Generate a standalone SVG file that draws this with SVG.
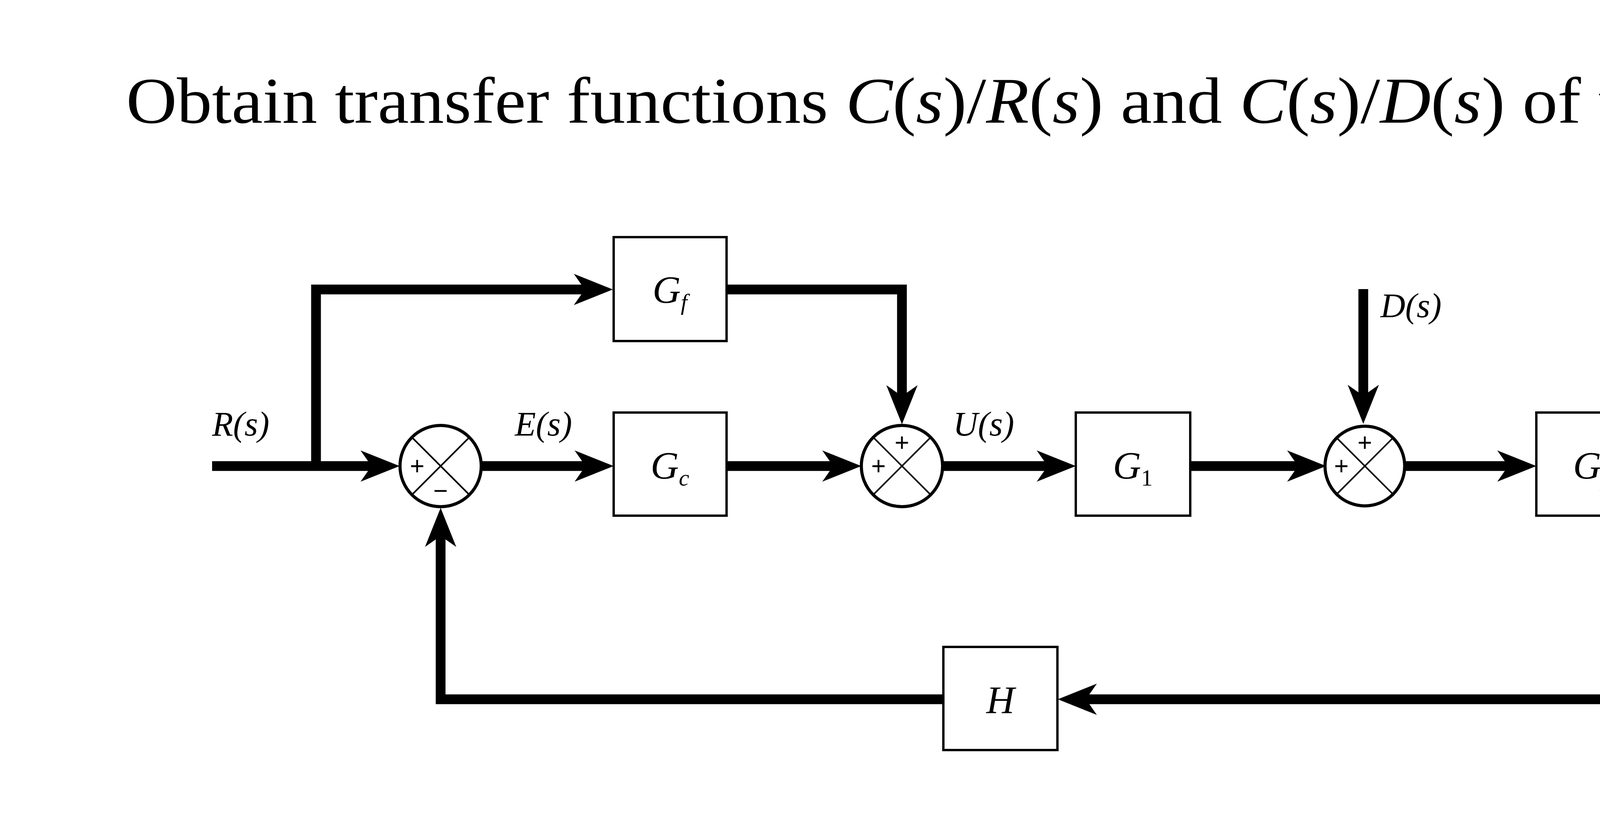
<svg xmlns="http://www.w3.org/2000/svg" xmlns:xlink="http://www.w3.org/1999/xlink" width="4918" height="2140" viewBox="0 0 4918 2140">
<style>
.w{fill:none;stroke:#000;stroke-width:25;stroke-linejoin:miter}
.b{fill:#fff;stroke:#000;stroke-width:6}
.s{fill:#fff;stroke:#000;stroke-width:8}
.x{stroke:#000;stroke-width:4}
.t{font-family:"Liberation Serif",serif;font-style:italic;fill:#000}
.lb{font-size:88px}
.bl{font-size:100px;text-anchor:middle}
.pm{font-family:"Liberation Sans",sans-serif;font-size:64px;text-anchor:middle;fill:#000}
</style>
<defs><path id="ah" d="M0,0 L-100,-40 L-72,0 L-100,40 Z" fill="#000"/></defs>
<rect width="4918" height="2140" fill="#fff"/>
<text x="323" y="314" font-family="Liberation Serif,serif" font-size="168" fill="#000" textLength="4533" lengthAdjust="spacingAndGlyphs">Obtain transfer functions <tspan font-style="italic">C</tspan>(<tspan font-style="italic">s</tspan>)/<tspan font-style="italic">R</tspan>(<tspan font-style="italic">s</tspan>) and <tspan font-style="italic">C</tspan>(<tspan font-style="italic">s</tspan>)/<tspan font-style="italic">D</tspan>(<tspan font-style="italic">s</tspan>) of the system</text>
<g id="connectors">
<path class="w" d="M543,1193 H953"/>
<path class="w" d="M809,1193 V741 H1500"/>
<path class="w" d="M1860,741 H2309 V1016"/>
<path class="w" d="M1233,1193 H1500"/>
<path class="w" d="M1860,1193 H2135"/>
<path class="w" d="M2413,1193 H2684"/>
<path class="w" d="M3047,1193 H3325"/>
<path class="w" d="M3490,740 V1015"/>
<path class="w" d="M3593,1193 H3863"/>
<path class="w" d="M4224,1193 H4616"/>
<path class="w" d="M4414,1193 V1790 H2778"/>
<path class="w" d="M2415,1790 H1128 V1370"/>
<use xlink:href="#ah" transform="translate(1023,1193)"/>
<use xlink:href="#ah" transform="translate(1569,741)"/>
<use xlink:href="#ah" transform="translate(1571,1193)"/>
<use xlink:href="#ah" transform="translate(2205,1193)"/>
<use xlink:href="#ah" transform="translate(2309,1086) rotate(90)"/>
<use xlink:href="#ah" transform="translate(2754,1193)"/>
<use xlink:href="#ah" transform="translate(3395,1193)"/>
<use xlink:href="#ah" transform="translate(3490,1085) rotate(90)"/>
<use xlink:href="#ah" transform="translate(3933,1193)"/>
<use xlink:href="#ah" transform="translate(4686,1193)"/>
<use xlink:href="#ah" transform="translate(2708,1790) rotate(180)"/>
<use xlink:href="#ah" transform="translate(1128,1300) rotate(-90)"/>
</g>
<g id="labels">
<text class="t lb" x="543" y="1115">R(s)</text>
<text class="t lb" x="1318" y="1115">E(s)</text>
<text class="t lb" x="2440" y="1115">U(s)</text>
<text class="t lb" x="3534" y="812">D(s)</text>
<text class="t lb" x="4524" y="1115">C(s)</text>
</g>
<g id="Gf"><rect class="b" x="1571" y="607" width="289" height="266"/><text class="t bl" x="1715" y="775">G<tspan font-size="60" dy="18">f</tspan></text></g>
<g id="Gc"><rect class="b" x="1571" y="1056" width="289" height="264"/><text class="t bl" x="1715" y="1225">G<tspan font-size="60" dy="18">c</tspan></text></g>
<g id="G1"><rect class="b" x="2754" y="1056" width="293" height="264"/><text class="t bl" x="2900" y="1225">G<tspan font-size="60" dy="18" font-style="normal">1</tspan></text></g>
<g id="Gp"><rect class="b" x="3933" y="1056" width="291" height="264"/><text class="t bl" x="4078" y="1225">G<tspan font-size="60" dy="18">p</tspan></text></g>
<g id="H"><rect class="b" x="2415" y="1656" width="292" height="264"/><text class="t bl" x="2561" y="1825">H</text></g>
<g id="sum1"><circle class="s" cx="1128" cy="1193" r="104"/><path class="x" d="M1054,1119 L1202,1267 M1202,1119 L1054,1267"/><text class="pm" x="1068" y="1215">+</text><text class="pm" x="1128" y="1278">−</text></g>
<g id="sum2"><circle class="s" cx="2309" cy="1193" r="104"/><path class="x" d="M2235,1119 L2383,1267 M2383,1119 L2235,1267"/><text class="pm" x="2309" y="1155">+</text><text class="pm" x="2249" y="1215">+</text></g>
<g id="sum3"><circle class="s" cx="3494" cy="1193" r="102"/><path class="x" d="M3422,1121 L3566,1265 M3566,1121 L3422,1265"/><text class="pm" x="3494" y="1155">+</text><text class="pm" x="3434" y="1215">+</text></g>
</svg>
